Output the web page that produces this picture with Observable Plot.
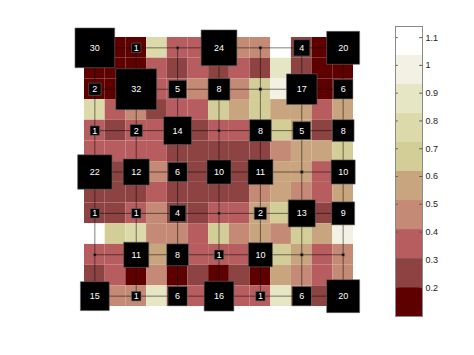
<!DOCTYPE html>
<html><head><meta charset="utf-8">
<script src="https://cdn.jsdelivr.net/npm/d3@7"></script>
<script src="https://cdn.jsdelivr.net/npm/@observablehq/plot@0.6"></script>
<style>
html,body{margin:0;padding:0;background:#fff;}
#wrap{position:relative;width:474px;height:355px;overflow:hidden;background:#fff;}
#wrap svg{position:absolute;top:0;}
</style></head><body><div id="wrap"></div>
<script>
// 13x13 grid of shaded cells (row 0 at top)
const heatRows = [
  [0.15,0.15,0.15,0.78,0.36,0.36,0.36,0.46,0.46,1.09,0.25,0.15,0.15],
  [0.15,0.15,0.15,0.36,0.25,0.36,0.25,0.36,0.25,0.88,0.25,0.15,0.15],
  [0.15,0.15,0.25,0.36,0.36,0.46,0.46,0.46,0.67,0.98,0.25,0.15,0.15],
  [0.78,0.36,0.46,0.25,0.36,0.36,0.67,0.57,0.67,0.57,0.57,0.36,0.57],
  [0.36,0.25,0.36,0.36,0.36,0.25,0.36,0.36,0.36,0.67,0.57,0.25,0.67],
  [0.36,0.36,0.36,0.36,0.25,0.25,0.25,0.25,0.25,0.46,0.57,0.57,0.67],
  [0.25,0.25,0.25,0.46,0.25,0.25,0.25,0.25,0.46,0.57,0.57,0.36,0.57],
  [0.25,0.25,0.25,0.36,0.25,0.25,0.25,0.25,0.46,0.57,0.46,0.36,0.57],
  [0.25,0.25,0.36,0.46,0.25,0.25,0.36,0.36,0.57,0.67,0.46,0.25,0.57],
  [1.09,0.67,0.78,0.46,0.46,0.36,0.67,0.46,0.57,0.46,0.67,0.57,0.98],
  [0.36,0.36,0.36,0.57,0.57,0.36,0.36,0.36,0.67,0.67,0.57,0.36,0.46],
  [0.25,0.36,0.15,0.46,0.15,0.25,0.15,0.25,0.15,0.57,0.46,0.36,0.46],
  [0.25,0.46,0.46,0.88,0.25,0.36,0.36,0.36,0.36,0.88,0.46,0.25,0.25]
];
// 7x7 node counts (0 = plain dot)
const nodeValues = [
  [30, 1, 0, 24, 0, 4, 20],
  [2, 32, 5, 8, 0, 17, 6],
  [1, 2, 14, 0, 8, 5, 8],
  [22, 12, 6, 10, 11, 0, 10],
  [1, 1, 4, 0, 2, 13, 9],
  [0, 11, 8, 1, 10, 0, 0],
  [15, 1, 6, 16, 1, 6, 20]
];
const nodeIdx = [0, 2, 4, 6, 8, 10, 12];
const bandColors = ["#5f0000", "#8e4343", "#b75d5f", "#c48a76", "#c8a57e", "#d3cd98", "#dcdaab", "#e6e5c4", "#f2f1e3", "#ffffff"];
const bandEdges = [0.096, 0.2, 0.3045, 0.409, 0.5135, 0.618, 0.7225, 0.827, 0.9315, 1.036, 1.14];
const colorbarTicks = [0.2, 0.3, 0.4, 0.5, 0.6, 0.7, 0.8, 0.9, 1, 1.1];

const colorScale = {type: "threshold", domain: bandEdges.slice(1, -1), range: bandColors};
const cells = heatRows.flatMap((row, r) => row.map((v, c) => ({r, c, v})));
const nodes = nodeValues.flatMap((row, i) => row.map((v, j) => ({r: nodeIdx[i], c: nodeIdx[j], v})));
const font = "'Liberation Sans', Arial, Helvetica, sans-serif";

const main = Plot.plot({
  width: 474, height: 355,
  marginLeft: 84, marginRight: 121, marginTop: 37, marginBottom: 49,
  style: {background: "transparent"},
  x: {type: "linear", domain: [-0.5, 12.5], axis: null},
  y: {type: "linear", domain: [12.5, -0.5], axis: null},
  color: colorScale,
  r: {type: "sqrt", domain: [0, 32], range: [1.55, 23.1]},
  marks: [
    Plot.rect(cells, {x1: d => d.c - 0.5, x2: d => d.c + 0.5, y1: d => d.r - 0.5, y2: d => d.r + 0.5, fill: "v"}),
    Plot.ruleY(nodeIdx, {y: d => d, x1: 0, x2: 12, stroke: "#000", strokeOpacity: 0.5}),
    Plot.ruleX(nodeIdx, {x: d => d, y1: 0, y2: 12, stroke: "#000", strokeOpacity: 0.5}),
    Plot.dot(nodes, {x: "c", y: "r", r: "v", symbol: "square", fill: "#000", stroke: "#666", strokeWidth: 0.6}),
    Plot.text(nodes.filter(d => d.v > 0), {x: "c", y: "r", text: d => String(d.v), fill: "white", fontSize: 9, fontFamily: font})
  ]
});
main.style.left = "0px";

const bands = bandColors.map((col, i) => ({lo: bandEdges[i], hi: bandEdges[i + 1]}));
const bar = Plot.plot({
  width: 94, height: 355,
  marginLeft: 15, marginRight: 52, marginTop: 26, marginBottom: 39,
  style: {background: "transparent", fontFamily: font, fontSize: "9px", color: "#222"},
  x: {type: "linear", domain: [0, 1], axis: null},
  y: {type: "linear", domain: [bandEdges[0], bandEdges[bandEdges.length - 1]], axis: "right",
      ticks: colorbarTicks, tickFormat: d => String(+d.toFixed(1)), tickSize: 0, tickPadding: 3, label: null},
  color: colorScale,
  marks: [
    Plot.rect(bands, {x1: 0, x2: 1, y1: "lo", y2: "hi", fill: d => (d.lo + d.hi) / 2}),
    Plot.ruleY(colorbarTicks, {y: d => d, x1: 0, x2: 0.1, stroke: "#555"}),
    Plot.ruleY(colorbarTicks, {y: d => d, x1: 0.9, x2: 1, stroke: "#555"}),
    Plot.frame({stroke: "#8a8a8a"})
  ]
});
bar.style.left = "380px";

const wrap = document.getElementById("wrap");
wrap.appendChild(main);
wrap.appendChild(bar);
</script></body></html>
